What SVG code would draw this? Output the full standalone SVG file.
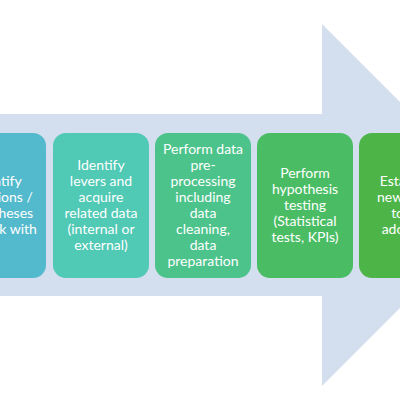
<svg xmlns="http://www.w3.org/2000/svg" width="400" height="400" viewBox="0 0 400 400">
<style>
.box{stroke:none}
.t{font-family:Lato,"Open Sans","Liberation Sans",sans-serif;font-size:14px;fill:#ffffff;text-anchor:middle}
</style>
<rect width="400" height="400" fill="#ffffff"/>
<g id="arrow">
<path d="M0,114 H322 V24 L503,205 L322,386 V296 H0 Z" fill="#d3deef"/>
</g>
<g id="step1">
<rect class="box" x="-50" y="133" width="96" height="145" rx="13" fill="#53b9cd"/>
<text class="t" x="-2"><tspan x="-2" y="186">Identify</tspan><tspan x="-2" y="202">questions /</tspan><tspan x="-2" y="218">hypotheses</tspan><tspan x="-2" y="234">to work with</tspan></text>
</g>
<g id="step2">
<rect class="box" x="53" y="133" width="96" height="145" rx="13" fill="#50c9b5"/>
<text class="t"><tspan x="101" y="170">Identify</tspan><tspan x="101" y="186">levers and</tspan><tspan x="101" y="202">acquire</tspan><tspan x="101" y="218">related data</tspan><tspan x="101" y="234">(internal or</tspan><tspan x="101" y="250">external)</tspan></text>
</g>
<g id="step3">
<rect class="box" x="155" y="133" width="96" height="145" rx="13" fill="#4cc38b"/>
<text class="t"><tspan x="203" y="154">Perform data</tspan><tspan x="203" y="170">pre-</tspan><tspan x="203" y="186">processing</tspan><tspan x="203" y="202">including</tspan><tspan x="203" y="218">data</tspan><tspan x="203" y="234">cleaning,</tspan><tspan x="203" y="250">data</tspan><tspan x="203" y="266">preparation</tspan></text>
</g>
<g id="step4">
<rect class="box" x="257" y="133" width="96" height="145" rx="13" fill="#4abd64"/>
<text class="t"><tspan x="305" y="178">Perform</tspan><tspan x="305" y="194">hypothesis</tspan><tspan x="305" y="210">testing</tspan><tspan x="305" y="226">(Statistical</tspan><tspan x="305" y="242">tests, KPIs)</tspan></text>
</g>
<g id="step5">
<rect class="box" x="359" y="133" width="96" height="145" rx="13" fill="#4db548"/>
<text class="t"><tspan x="407" y="186">Establish</tspan><tspan x="407" y="202">new ways</tspan><tspan x="407" y="218">to be</tspan><tspan x="407" y="234">adopted</tspan></text>
</g>
<g id="connectors"></g>
</svg>
